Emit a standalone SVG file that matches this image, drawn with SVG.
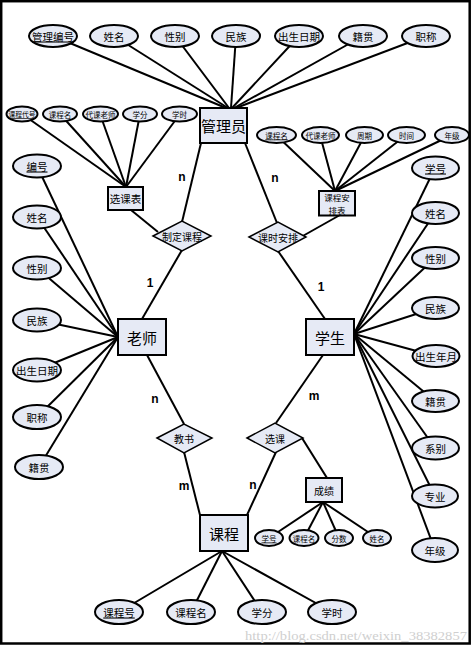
<svg xmlns="http://www.w3.org/2000/svg" width="474" height="648" viewBox="0 0 474 648">
<style>
.c line{stroke:#000;stroke-width:2}
.e{fill:#e6eaf5;stroke:#000;stroke-width:2}
.b{fill:#e6eaf5;stroke:#000;stroke-width:2}
.d{fill:#e6eaf5;stroke:#000;stroke-width:1.5}
text{font-family:"Noto Sans CJK SC","Liberation Sans",sans-serif;text-anchor:middle;dominant-baseline:central;fill:#000}
.t11{font-size:10.5px}
.t8{font-size:7.5px}
.t7{font-size:6.8px}
.t15{font-size:15px}
.t10{font-size:10px}
.t9{font-size:8.5px}
.u{text-decoration:underline}
.lbl{font-family:"Liberation Sans",sans-serif;font-size:12px;font-weight:bold}
</style>
<rect x="0" y="0" width="474" height="648" fill="#fff"/>
<rect x="1.2" y="1.2" width="468.5" height="642.3" fill="none" stroke="#000" stroke-width="2.5"/>
<g id="connectors" class="c">
<line x1="53" y1="36" x2="226" y2="108"/>
<line x1="114" y1="36" x2="228" y2="108"/>
<line x1="175" y1="36" x2="229" y2="108"/>
<line x1="236" y1="36" x2="231" y2="108"/>
<line x1="299" y1="36" x2="232" y2="108"/>
<line x1="363" y1="36" x2="234" y2="108"/>
<line x1="426" y1="36" x2="236" y2="108"/>
<line x1="22" y1="114" x2="126" y2="187"/>
<line x1="60" y1="114" x2="126" y2="187"/>
<line x1="100" y1="114" x2="126" y2="187"/>
<line x1="140" y1="114" x2="126" y2="187"/>
<line x1="180" y1="114" x2="126" y2="187"/>
<line x1="276" y1="135" x2="335" y2="191"/>
<line x1="320" y1="135" x2="335" y2="191"/>
<line x1="365" y1="135" x2="335" y2="191"/>
<line x1="406" y1="135" x2="335" y2="191"/>
<line x1="452" y1="135" x2="335" y2="191"/>
<line x1="201" y1="143" x2="182" y2="222"/>
<line x1="131" y1="210" x2="158" y2="232"/>
<line x1="245" y1="143" x2="277" y2="223"/>
<line x1="340" y1="215" x2="301" y2="237"/>
<line x1="182" y1="250" x2="142" y2="319"/>
<line x1="278" y1="251" x2="325" y2="319"/>
<line x1="147" y1="355" x2="184" y2="424"/>
<line x1="323" y1="355" x2="276" y2="423"/>
<line x1="184" y1="452" x2="200" y2="515"/>
<line x1="276" y1="452" x2="247" y2="515"/>
<line x1="302" y1="438" x2="327" y2="478"/>
<line x1="37" y1="166" x2="118" y2="337"/>
<line x1="37" y1="217" x2="118" y2="337"/>
<line x1="37" y1="268" x2="118" y2="337"/>
<line x1="37" y1="320" x2="118" y2="337"/>
<line x1="37" y1="370" x2="118" y2="337"/>
<line x1="37" y1="417" x2="118" y2="337"/>
<line x1="39" y1="467" x2="118" y2="337"/>
<line x1="435" y1="168" x2="354" y2="334"/>
<line x1="435" y1="213" x2="354" y2="334"/>
<line x1="435" y1="258" x2="354" y2="334"/>
<line x1="435" y1="308" x2="354" y2="334"/>
<line x1="435" y1="356" x2="354" y2="334"/>
<line x1="435" y1="401" x2="354" y2="334"/>
<line x1="435" y1="448" x2="354" y2="334"/>
<line x1="435" y1="496" x2="354" y2="334"/>
<line x1="435" y1="550" x2="354" y2="334"/>
<line x1="119" y1="612" x2="222" y2="551"/>
<line x1="191" y1="612" x2="222" y2="551"/>
<line x1="262" y1="612" x2="222" y2="551"/>
<line x1="332" y1="612" x2="222" y2="551"/>
<line x1="269" y1="538" x2="323" y2="502"/>
<line x1="304" y1="538" x2="323" y2="502"/>
<line x1="339" y1="538" x2="323" y2="502"/>
<line x1="377" y1="538" x2="323" y2="502"/>
</g>
<g id="labels">
<text class="lbl" x="182" y="177">n</text>
<text class="lbl" x="275" y="178">n</text>
<text class="lbl" x="150" y="283">1</text>
<text class="lbl" x="321" y="287">1</text>
<text class="lbl" x="155" y="399">n</text>
<text class="lbl" x="314" y="396">m</text>
<text class="lbl" x="184" y="486">m</text>
<text class="lbl" x="253" y="485">n</text>
</g>
<g id="admin"><rect class="b" x="200" y="108" width="47" height="35"/><text class="t15" x="223.5" y="125.5">管理员</text></g>
<g id="teacher"><rect class="b" x="118" y="319" width="48" height="36"/><text class="t15" x="142" y="337">老师</text></g>
<g id="student"><rect class="b" x="306" y="319" width="48" height="36"/><text class="t15" x="330" y="337">学生</text></g>
<g id="course"><rect class="b" x="200" y="515" width="48" height="36"/><text class="t15" x="224" y="533">课程</text></g>
<g id="xuankebiao"><rect class="b" x="108" y="187" width="35" height="23"/><text class="t11" x="125.5" y="198.5">选课表</text></g>
<g id="kechenganpaibiao"><rect class="b" x="319" y="191" width="36" height="24.5"/><text class="t9" x="337" y="197">课程安</text><text class="t9" x="337" y="209.5">排表</text></g>
<g id="chengji"><rect class="b" x="306" y="478" width="36" height="24"/><text class="t10" x="324" y="490">成绩</text></g>
<g id="zhidingkecheng"><polygon class="d" points="153,236 182,221 211,236 182,251"/><text class="t10" x="182" y="236">制定课程</text></g>
<g id="keshianpai"><polygon class="d" points="249,237 278,222 306,237 278,252"/><text class="t10" x="278" y="237">课时安排</text></g>
<g id="jiaoshu"><polygon class="d" points="157,438 184,424 212,438 184,453"/><text class="t10" x="184" y="438">教书</text></g>
<g id="xuanke"><polygon class="d" points="247,438 275,423 303,438 275,453"/><text class="t10" x="275" y="438">选课</text></g>
<g id="admin-attrs">
<g id="a1"><ellipse class="e" cx="53" cy="36" rx="24" ry="11"/><text class="t11 u" x="53" y="36">管理编号</text></g>
<g id="a2"><ellipse class="e" cx="114" cy="36" rx="24" ry="11"/><text class="t11" x="114" y="36">姓名</text></g>
<g id="a3"><ellipse class="e" cx="175" cy="36" rx="24" ry="11"/><text class="t11" x="175" y="36">性别</text></g>
<g id="a4"><ellipse class="e" cx="236" cy="36" rx="24" ry="11"/><text class="t11" x="236" y="36">民族</text></g>
<g id="a5"><ellipse class="e" cx="299" cy="36" rx="24" ry="11"/><text class="t11" x="299" y="36">出生日期</text></g>
<g id="a6"><ellipse class="e" cx="363" cy="36" rx="24" ry="11"/><text class="t11" x="363" y="36">籍贯</text></g>
<g id="a7"><ellipse class="e" cx="426" cy="36" rx="24" ry="11"/><text class="t11" x="426" y="36">职称</text></g>
</g>
<g id="xkb-attrs">
<g id="x1"><ellipse class="e" cx="22" cy="114" rx="15.5" ry="7.5"/><text class="t7 u" x="22" y="114">课程代号</text></g>
<g id="x2"><ellipse class="e" cx="60" cy="114" rx="17" ry="7.5"/><text class="t8" x="60" y="114">课程名</text></g>
<g id="x3"><ellipse class="e" cx="100.5" cy="114" rx="17.5" ry="7.5"/><text class="t8" x="100.5" y="114">代课老师</text></g>
<g id="x4"><ellipse class="e" cx="140" cy="114" rx="17" ry="7.5"/><text class="t8" x="140" y="114">学分</text></g>
<g id="x5"><ellipse class="e" cx="179.5" cy="114" rx="17.5" ry="7.5"/><text class="t8" x="179.5" y="114">学时</text></g>
</g>
<g id="kcap-attrs">
<g id="k1"><ellipse class="e" cx="276.5" cy="135" rx="19.5" ry="8"/><text class="t8 u" x="276.5" y="135">课程名</text></g>
<g id="k2"><ellipse class="e" cx="320.5" cy="135" rx="18.5" ry="8"/><text class="t8" x="320.5" y="135">代课老师</text></g>
<g id="k3"><ellipse class="e" cx="364.5" cy="135" rx="18.5" ry="8"/><text class="t8" x="364.5" y="135">周期</text></g>
<g id="k4"><ellipse class="e" cx="406.5" cy="135" rx="18.5" ry="8"/><text class="t8" x="406.5" y="135">时间</text></g>
<g id="k5"><ellipse class="e" cx="452" cy="135" rx="17" ry="8"/><text class="t8" x="452" y="135">年级</text></g>
</g>
<g id="teacher-attrs">
<g id="t1"><ellipse class="e" cx="37" cy="166" rx="24" ry="11.5"/><text class="t11 u" x="37" y="166">编号</text></g>
<g id="t2"><ellipse class="e" cx="37" cy="217" rx="24" ry="11.5"/><text class="t11" x="37" y="217">姓名</text></g>
<g id="t3"><ellipse class="e" cx="37" cy="268" rx="24" ry="11.5"/><text class="t11" x="37" y="268">性别</text></g>
<g id="t4"><ellipse class="e" cx="37" cy="320" rx="24" ry="11.5"/><text class="t11" x="37" y="320">民族</text></g>
<g id="t5"><ellipse class="e" cx="37" cy="370" rx="24" ry="11.5"/><text class="t11" x="37" y="370">出生日期</text></g>
<g id="t6"><ellipse class="e" cx="37" cy="417" rx="24" ry="12"/><text class="t11" x="37" y="417">职称</text></g>
<g id="t7"><ellipse class="e" cx="39" cy="467" rx="24" ry="12"/><text class="t11" x="39" y="467">籍贯</text></g>
</g>
<g id="student-attrs">
<g id="s1"><ellipse class="e" cx="435.5" cy="168" rx="23.5" ry="11.5"/><text class="t11 u" x="435.5" y="168">学号</text></g>
<g id="s2"><ellipse class="e" cx="435.5" cy="213" rx="23.5" ry="11"/><text class="t11" x="435.5" y="213">姓名</text></g>
<g id="s3"><ellipse class="e" cx="435.5" cy="258" rx="23.5" ry="11"/><text class="t11" x="435.5" y="258">性别</text></g>
<g id="s4"><ellipse class="e" cx="435.5" cy="308" rx="23.5" ry="11"/><text class="t11" x="435.5" y="308">民族</text></g>
<g id="s5"><ellipse class="e" cx="436" cy="356" rx="23.5" ry="11"/><text class="t11" x="436" y="356">出生年月</text></g>
<g id="s6"><ellipse class="e" cx="435.5" cy="401" rx="23.5" ry="11"/><text class="t11" x="435.5" y="401">籍贯</text></g>
<g id="s7"><ellipse class="e" cx="435.5" cy="448" rx="23.5" ry="11.5"/><text class="t11" x="435.5" y="448">系别</text></g>
<g id="s8"><ellipse class="e" cx="435" cy="496" rx="23" ry="11.5"/><text class="t11" x="435" y="496">专业</text></g>
<g id="s9"><ellipse class="e" cx="435" cy="550" rx="23" ry="12"/><text class="t11" x="435" y="550">年级</text></g>
</g>
<g id="course-attrs">
<g id="c1"><ellipse class="e" cx="119" cy="612" rx="24" ry="12"/><text class="t11 u" x="119" y="612">课程号</text></g>
<g id="c2"><ellipse class="e" cx="191" cy="612" rx="24" ry="12"/><text class="t11" x="191" y="612">课程名</text></g>
<g id="c3"><ellipse class="e" cx="262" cy="612" rx="24" ry="12"/><text class="t11" x="262" y="612">学分</text></g>
<g id="c4"><ellipse class="e" cx="332" cy="612" rx="24" ry="12"/><text class="t11" x="332" y="612">学时</text></g>
</g>
<g id="score-attrs">
<g id="g1"><ellipse class="e" cx="269" cy="538" rx="14" ry="8"/><text class="t8 u" x="269" y="538">学号</text></g>
<g id="g2"><ellipse class="e" cx="304" cy="538" rx="14.5" ry="8"/><text class="t8" x="304" y="538">课程名</text></g>
<g id="g3"><ellipse class="e" cx="339" cy="538" rx="14" ry="8"/><text class="t8" x="339" y="538">分数</text></g>
<g id="g4"><ellipse class="e" cx="377" cy="538" rx="14" ry="8"/><text class="t8" x="377" y="538">姓名</text></g>
</g>
<text x="245" y="635" style="font-family:'Liberation Serif',serif;font-size:13px;text-anchor:start;fill:#cfcfcf" textLength="222" lengthAdjust="spacingAndGlyphs">http://blog.csdn.net/weixin_38382857</text>
</svg>
